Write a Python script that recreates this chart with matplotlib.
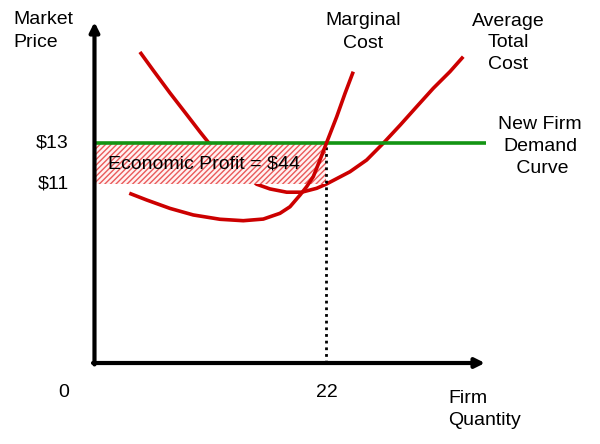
import matplotlib
matplotlib.use("Agg")
import matplotlib.pyplot as plt
from matplotlib.patches import Rectangle

plt.rcParams['font.family'] = ['Liberation Sans', 'DejaVu Sans']
plt.rcParams['hatch.linewidth'] = 1.0

# ---- data ----
price_high = 13
price_low = 11
quantity = 22
profit_label = "Economic Profit = $44"

mc_q = [3.30, 4.95, 7.16, 9.37, 11.90, 14.11, 16.01, 17.59, 18.54, 19.49, 20.12, 20.75, 21.38, 22.0, 22.97, 23.76, 24.54]
mc_p = [10.55, 10.22, 9.81, 9.49, 9.28, 9.21, 9.29, 9.57, 9.89, 10.46, 10.87, 11.36, 12.17, 13.0, 14.28, 15.42, 16.48]

atc_q = [4.31, 5.55, 7.16, 8.77, 10.01, 10.77, 13.04, 15.38, 16.64, 18.23, 19.65, 21.07, 22.0,
         24.23, 25.81, 27.39, 29.0, 30.55, 32.13, 33.71, 34.97]
atc_p = [17.44, 16.56, 15.44, 14.37, 13.54, 13.05, 12.02, 10.99, 10.76, 10.60, 10.60, 10.79, 11.0,
         11.60, 12.17, 12.99, 13.88, 14.77, 15.67, 16.48, 17.21]

demand_q = [0, 37.1]
demand_p = [13, 13]

tick_prices = [13, 11]
tick_price_labels = ["$13", "$11"]
tick_q = [0, 22]
tick_q_labels = ["0", "22"]

# ---- figure ----
fig = plt.figure(figsize=(6.0, 4.44), dpi=100)
ax = fig.add_axes([0, 0, 1, 1])
ax.set_xlim(-8.96, 47.94)
ax.set_ylim(-1.683, 19.976)
ax.axis('off')

axis_y = 2.268   # price level where the quantity axis sits
red = '#cc0000'
green = '#139413'

# profit rectangle
rect = Rectangle((0, price_low), quantity, price_high - price_low,
                 facecolor='#fff2f2', edgecolor='#ea5a5a', linewidth=0,
                 hatch='//////', zorder=3)
ax.add_patch(rect)

# curves
ax.plot(atc_q, atc_p, color=red, lw=2.6, solid_capstyle='butt', solid_joinstyle='round', zorder=2)
ax.plot(mc_q, mc_p, color=red, lw=2.6, solid_capstyle='butt', solid_joinstyle='round', zorder=5)
ax.plot(demand_q, demand_p, color=green, lw=2.6, solid_capstyle='butt', zorder=4)

# dotted line at quantity
ax.plot([quantity, quantity], [axis_y, price_high], color='black', lw=2,
        linestyle=(0, (1, 1.4)), zorder=4)

# axes with arrows
ax.annotate('', xy=(0, 18.9), xytext=(0, axis_y - 0.07),
            arrowprops=dict(arrowstyle='-|>', lw=3, color='black',
                            mutation_scale=14, shrinkA=0, shrinkB=0), zorder=6)
ax.annotate('', xy=(37.03, axis_y), xytext=(-0.14, axis_y),
            arrowprops=dict(arrowstyle='-|>', lw=3, color='black',
                            mutation_scale=14, shrinkA=0, shrinkB=0), zorder=6)

fs = 14
ls = 1.42
# tick labels
for p, lab in zip(tick_prices, tick_price_labels):
    ax.text(-2.42, p, lab, ha='right', va='center', fontsize=fs)
for q, lab in zip(tick_q, tick_q_labels):
    xq = -2.89 if q == 0 else q
    ax.text(xq, 0.805, lab, ha='center', va='center', fontsize=fs)

# profit label
ax.text(1.27, 12.0, profit_label, ha='left', va='center', fontsize=fs, zorder=6)

# axis titles and curve labels
ax.text(-7.73, 18.46, "Market\nPrice", ha='left', va='center', fontsize=fs, linespacing=ls)
ax.text(33.52, 0.0, "Firm\nQuantity", ha='left', va='center', fontsize=fs, linespacing=ls)
ax.text(25.46, 18.41, "Marginal\nCost", ha='center', va='center', fontsize=fs, linespacing=ls)
ax.text(39.21, 17.88, "Average\nTotal\nCost", ha='center', va='center', fontsize=fs, linespacing=1.38)
ax.text(42.25, 12.85, "New Firm\nDemand\n Curve", ha='center', va='center', fontsize=fs, linespacing=1.38)

fig.savefig('out.png', dpi=100)
